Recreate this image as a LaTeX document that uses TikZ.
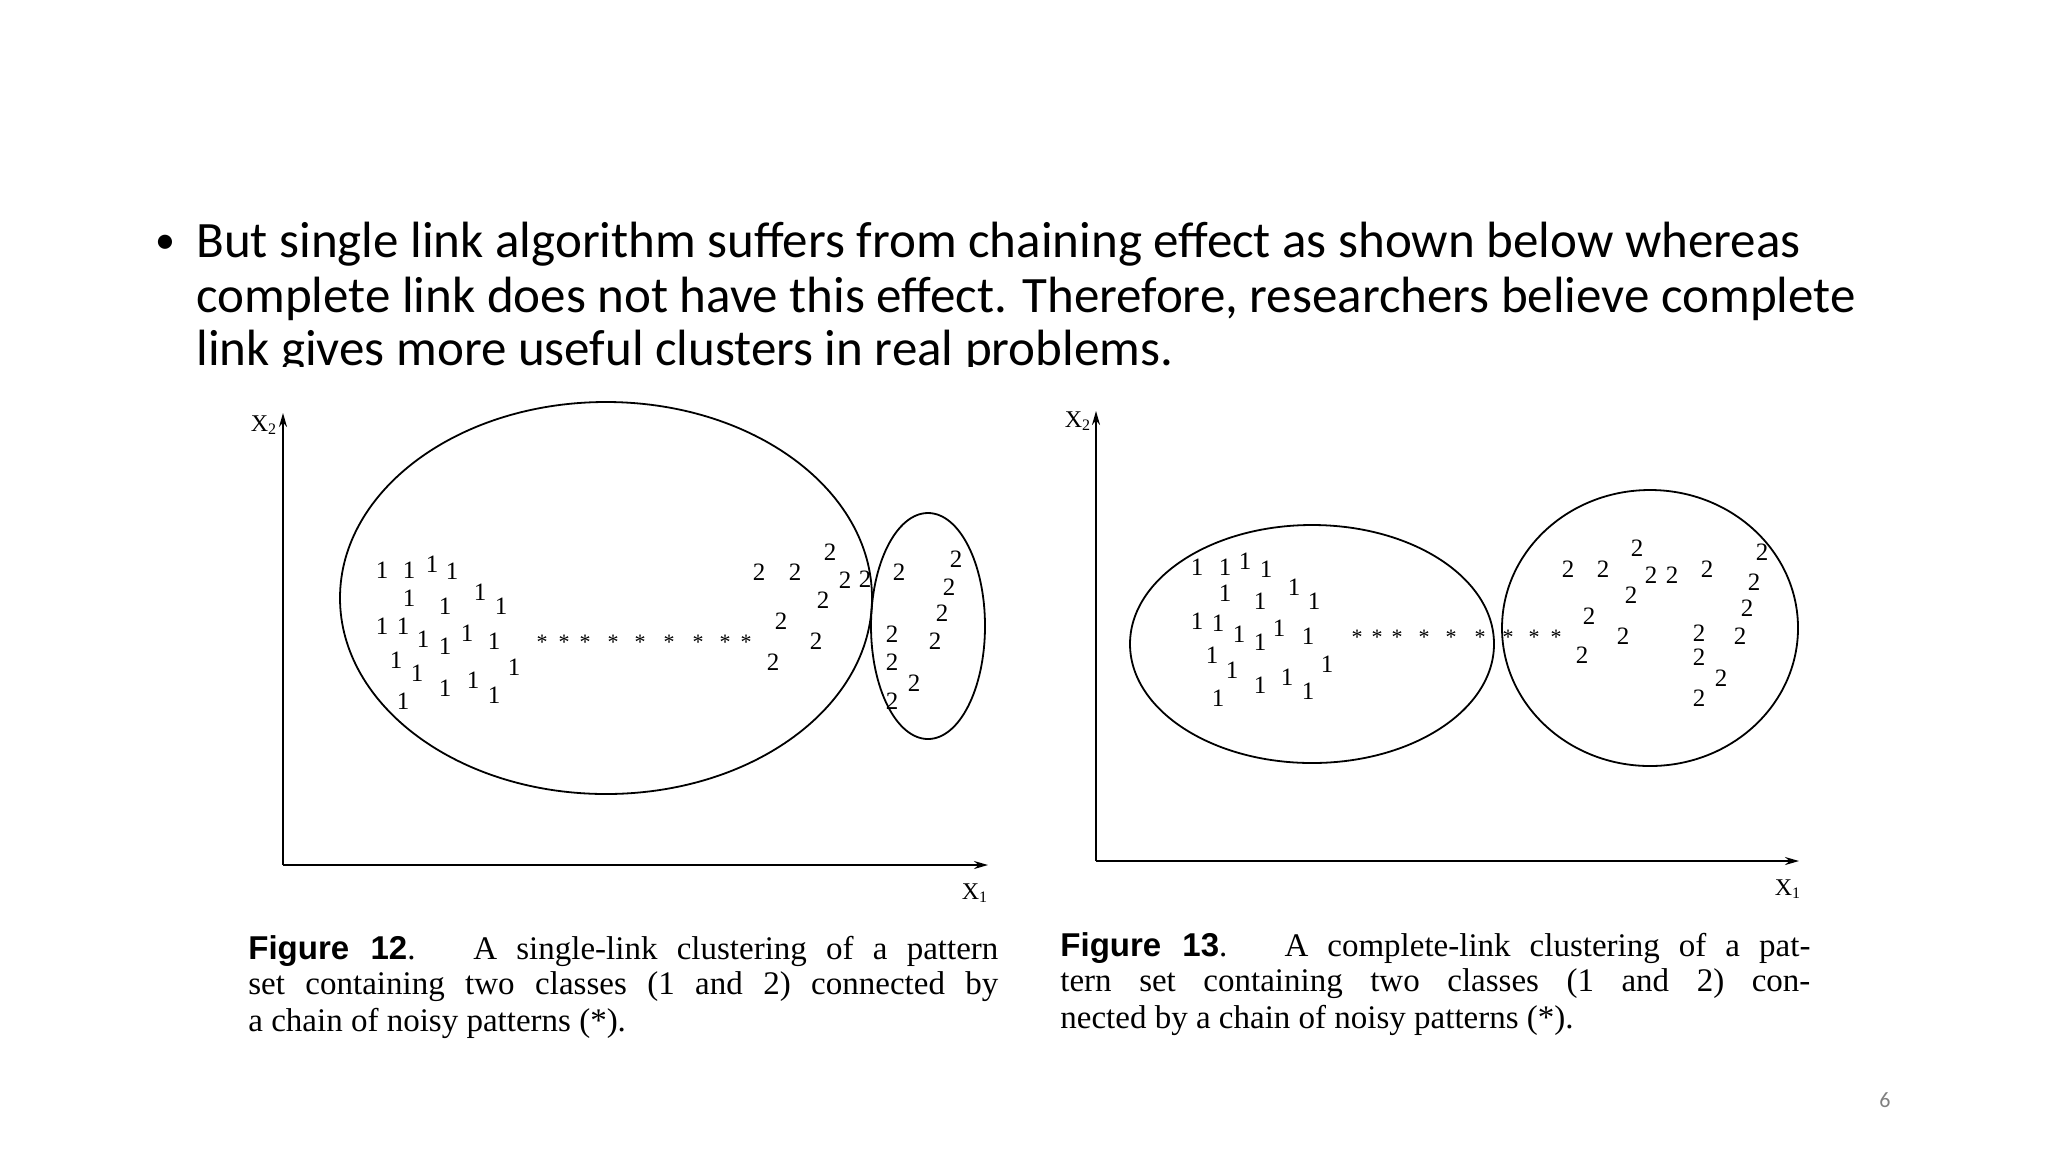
\documentclass[tikz,border=0pt]{standalone}
\usepackage{fontspec}
\setmainfont{Liberation Serif}
\newfontfamily\bodyfont{Carlito}
\newfontfamily\capsans{Liberation Sans}
\usetikzlibrary{arrows.meta}
\tikzset{
  one/.style={font=\fontsize{12.5}{13}\selectfont, inner sep=0pt},
  star/.style={font=\fontsize{11}{12}\selectfont, inner sep=0pt},
  ax/.style={line width=1pt, -{Stealth[length=7pt,width=4pt]}},
  clus/.style={line width=0.9pt},
  lbl/.style={font=\fontsize{12}{13}\selectfont, inner sep=0pt},
  capline/.style={anchor=west, inner sep=0pt, font=\fontsize{16.5}{18}\selectfont},
  bline/.style={anchor=west, inner sep=0pt, font=\bodyfont\fontsize{25.5}{27}\selectfont}
}
\newcommand{\capsp}[2]{\hbox to #1{#2}}
\begin{document}
\begin{tikzpicture}[x=0.5pt,y=-0.5pt]
\useasboundingbox (0,0) rectangle (2048,1152);
% bullet text
\node[inner sep=0pt, font=\bodyfont\fontsize{20}{24}\selectfont] (bul) at (165,244) {•};
\begin{scope}
\clip (150,200) rectangle (1900,366);
\node[bline] (t1) at (196,244) {But single link algorithm suffers from chaining effect as shown below whereas};
\node[bline] (t2) at (196,299) {complete link does not have this effect. Therefore, researchers believe complete};
\node[bline] (t3) at (196,352) {link gives more useful clusters in real problems.};
\end{scope}
% ---------- left figure ----------
\coordinate (lo) at (283,865);
\coordinate (ly) at (283,413);
\coordinate (lx) at (988,865);
\draw[ax] (lo) -- (ly);
\draw[ax] (lo) -- (lx);
\node[lbl] (lX2) at (264,425) {X\textsubscript{2}};
\node[lbl] (lX1) at (975,893) {X\textsubscript{1}};
\draw[clus] (606,598) ellipse [x radius=266, y radius=196];
\draw[clus] (928,626) ellipse [x radius=57, y radius=113];
\foreach \p in {(382,570),(409,570),(432,564),(452,571),(409,598),(445,606),(480,592),(501,606),(382,626),(403,626),(423,639),(445,646),(467,633),(494,641),(396,660),(417,673),(445,688),(473,680),(494,695),(514,667),(403,701)}
  \node[one] at \p {1};
\foreach \x in {542,564,585,613,640,669,698,725,746}
  \node[star] at (\x,642) {*};
\foreach \p in {(759,572),(795,572),(830,552),(845,580),(865,579),(823,600),(781,621),(816,641),(773,662),(899,572),(956,559),(949,587),(942,613),(892,634),(935,641),(892,662),(914,683),(892,701)}
  \node[one] at \p {2};
% ---------- right figure ----------
\coordinate (ro) at (1096,861);
\coordinate (ry) at (1096,411);
\coordinate (rx) at (1799,861);
\draw[ax] (ro) -- (ry);
\draw[ax] (ro) -- (rx);
\node[lbl] (rX2) at (1078,421) {X\textsubscript{2}};
\node[lbl] (rX1) at (1788,889) {X\textsubscript{1}};
\draw[clus] (1312,644) ellipse [x radius=182, y radius=119];
\draw[clus] (1650,628) ellipse [x radius=148, y radius=138];
\foreach \p in {(1197,567),(1225,567),(1245,561),(1266,569),(1225,593),(1260,601),(1294,587),(1314,601),(1197,621),(1218,623),(1239,634),(1260,642),(1279,628),(1308,636),(1212,655),(1232,670),(1260,685),(1287,677),(1308,691),(1327,664),(1218,698)}
  \node[one] at \p {1};
\foreach \x in {1357,1377,1397,1424,1451,1480,1508,1534,1556}
  \node[star] at (\x,637) {*};
\foreach \p in {(1568,569),(1603,569),(1637,548),(1651,575),(1672,575),(1631,595),(1589,616),(1623,636),(1582,655),(1707,569),(1762,552),(1754,582),(1747,608),(1699,633),(1740,636),(1699,657),(1721,678),(1699,698)}
  \node[one] at \p {2};
% ---------- captions ----------
\node[capline] (c1a) at (248,951) {\capsp{375pt}{{\capsans\bfseries Figure 12}.\ \ \ A single-link clustering of a pattern}};
\node[capline] (c1b) at (248,987) {\capsp{375pt}{set containing two classes (1 and 2) connected by}};
\node[capline] (c1c) at (248,1023) {a chain of noisy patterns (*).};
\node[capline] (c2a) at (1060,948) {\capsp{375pt}{{\capsans\bfseries Figure 13}.\ \ \ A complete-link clustering of a pat-}};
\node[capline] (c2b) at (1060,984) {\capsp{375pt}{tern set containing two classes (1 and 2) con-}};
\node[capline] (c2c) at (1060,1020) {nected by a chain of noisy patterns (*).};
% page number
\node[inner sep=0pt, text=gray, font=\bodyfont\fontsize{11}{12}\selectfont] (pg) at (1885,1100) {6};
\end{tikzpicture}
\end{document}
